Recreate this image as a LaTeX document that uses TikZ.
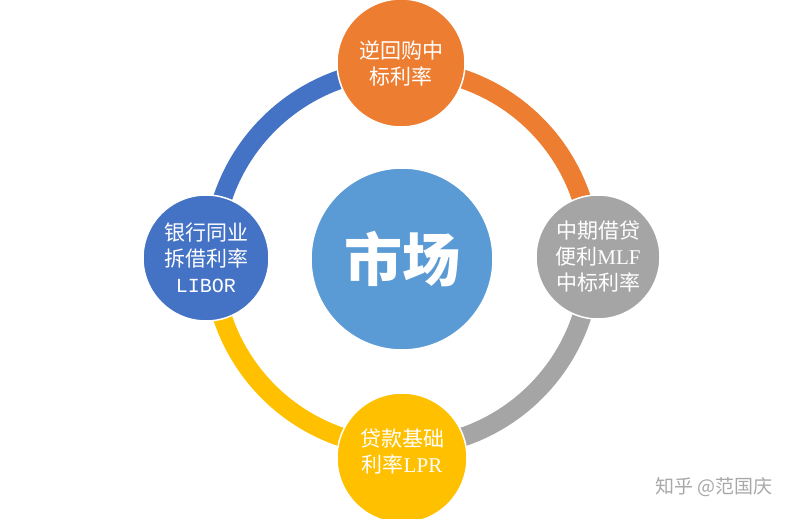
\documentclass[tikz,border=0pt]{standalone}
\usepackage{fontspec}
\newfontfamily\cjk{Noto Sans CJK SC}
\newfontfamily\latin{Liberation Serif}
\newfontfamily\latinmono{Liberation Mono}
\definecolor{cOrange}{HTML}{ED7D31}
\definecolor{cGray}{HTML}{A5A5A5}
\definecolor{cYellow}{HTML}{FFC000}
\definecolor{cBlue}{HTML}{4472C4}
\definecolor{cCenter}{HTML}{5B9BD5}
\definecolor{cMark}{HTML}{A8A8A8}
\begin{document}
\begin{tikzpicture}[x=1pt,y=1pt,
  circ/.style={circle, draw=white, line width=1.5pt, minimum size=128pt, inner sep=0pt, text=white, align=center,
    font=\cjk\fontsize{21}{26}\selectfont},
  txt/.style={text=white, align=center, inner sep=0pt, font=\cjk\fontsize{21}{26}\selectfont},
  ringseg/.style={line width=19pt}
]
\useasboundingbox (0,0) rectangle (803,519);
\coordinate (o) at (402,261);
% ring
\draw[ringseg, cOrange] (o) ++(90:189) arc (90:0:189);
\draw[ringseg, cGray] (o) ++(0:189) arc (0:-90:189);
\draw[ringseg, cYellow] (o) ++(-90:189) arc (-90:-180:189);
\draw[ringseg, cBlue] (o) ++(180:189) arc (180:90:189);
% center
\node[circle, draw=white, line width=1.5pt, fill=cCenter, minimum size=182pt, inner sep=0pt, text=white,
  font=\cjk\bfseries\fontsize{58}{60}\selectfont] (market) at (402,260) {市场};
% outer nodes
\node[circ, fill=cOrange] (repo) at (401,456) {逆回购中\\标利率};
\node[circ, fill=cGray, minimum size=124pt] (mlf) at (598,262) {中期借贷\\便利{\latin MLF}\\中标利率};
\node[circ, fill=cBlue, minimum size=126pt] (libor) at (206,261) {银行同业\\拆借利率\\{\latinmono\fontsize{20}{26}\selectfont LIBOR}};
\node[circ, fill=cYellow, minimum size=130pt] (lpr) at (402,61) {};
\node[txt] (lprtext) at ([yshift=6pt]lpr.center) {贷款基础\\利率{\latin LPR}};
% watermark
\node[text=cMark, inner sep=0pt, font=\cjk\fontsize{19}{22}\selectfont] (mark) at (714,32) {知乎 @范国庆};
\end{tikzpicture}
\end{document}
